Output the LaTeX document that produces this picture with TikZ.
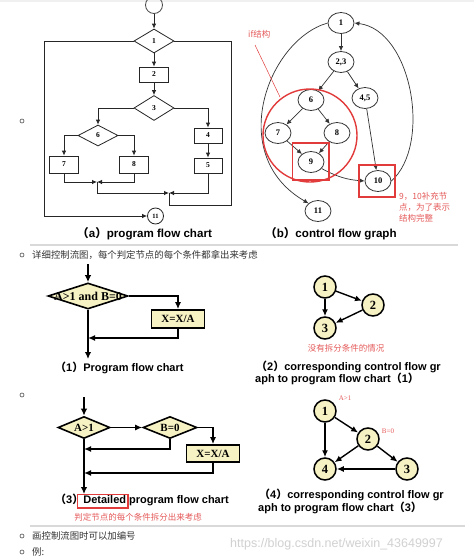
\documentclass[tikz,border=0pt]{standalone}
\usepackage{fontspec}
\setmainfont{Liberation Serif}
\newfontfamily\capfont{Liberation Sans}
\newfontfamily\cjk{Noto Sans CJK SC}
\usetikzlibrary{shapes.geometric,arrows.meta}
\definecolor{ylw}{HTML}{F7F2C4}
\definecolor{redbox}{HTML}{E23B3B}
\definecolor{redtxt}{HTML}{E65A5A}
\begin{document}
\begin{tikzpicture}[x=1pt,y=-1pt,
  thin/.style={draw=black!85, line width=0.8pt},
  tarrow/.style={thin, -{Latex[length=5pt,width=4.5pt]}},
  pbox/.style={draw=black!85, line width=0.8pt, rectangle, inner sep=0pt, minimum width=29pt, minimum height=15pt, font=\fontsize{7.5}{8}\selectfont\bfseries},
  pdia/.style={draw=black!85, line width=0.8pt, diamond, inner sep=0pt, minimum width=40pt, minimum height=24pt, font=\fontsize{7.5}{8}\selectfont\bfseries},
  cnode/.style={draw=black!80, line width=0.8pt, ellipse, inner sep=0pt, minimum width=26pt, minimum height=21pt, font=\fontsize{8.5}{9}\selectfont\bfseries},
  carrow/.style={draw=black!80, line width=0.7pt, -{Latex[length=5pt,width=4.5pt]}},
  ydia/.style={draw=black, line width=1.6pt, fill=ylw, diamond, inner sep=0pt},
  ybox/.style={draw=black, line width=1.6pt, fill=ylw, rectangle, inner sep=0pt, minimum width=53pt, minimum height=18pt, font=\fontsize{11}{12}\selectfont\bfseries},
  yn/.style={draw=black, line width=1.5pt, fill=ylw, circle, inner sep=0pt, minimum size=22pt, font=\fontsize{12.5}{13}\selectfont\bfseries},
  bigarrow/.style={draw=black, line width=1.6pt, -{Latex[length=7pt,width=6.5pt]}},
  yarrow/.style={draw=black, line width=1.4pt, -{Latex[length=7pt,width=6pt]}},
  capt/.style={anchor=west, inner sep=0pt, font=\capfont\bfseries\fontsize{11}{12}\selectfont},
  cjktext/.style={anchor=west, inner sep=0pt, text=black!80, font=\cjk\fontsize{9.4}{11}\selectfont},
  redcjk/.style={inner sep=0pt, text=redtxt, font=\cjk\fontsize{8.5}{11}\selectfont},
  bullet/.style={draw=black!70, line width=0.6pt, circle, inner sep=0pt, minimum size=4pt},
  sep/.style={draw=black!15, line width=2.5pt}
]
\useasboundingbox (0,0) rectangle (474,560);
\fill[white] (0,0) rectangle (474,560);
\fill[black!6] (0,0) rectangle (474,2);

% ---------- (a) program flow chart ----------
\node[draw=black!70, line width=0.8pt, circle, minimum size=17pt, inner sep=0pt] (st) at (154,5) {};
\node[pdia] (d1) at (154,41) {1};
\node[pbox] (b2) at (154,74.5) {2};
\node[pdia, minimum height=25pt] (d3) at (154,108) {3};
\node[pdia, minimum height=21pt] (d6) at (98,135.5) {6};
\node[pbox, minimum width=28pt] (b4) at (208,135.5) {4};
\node[pbox, minimum width=28pt] (b5) at (208,165.5) {5};
\node[pbox, minimum height=17pt] (b7) at (64,164.5) {7};
\node[pbox, minimum height=17pt] (b8) at (134,164.5) {8};
\node[draw=black!85, line width=0.8pt, circle, minimum size=16pt, inner sep=0pt, font=\fontsize{6.5}{7}\selectfont\bfseries] (c11) at (155.5,216) {11};
\coordinate (m1) at (97,182);
\coordinate (m2) at (169,193);
\coordinate (r1) at (231,205);
\coordinate (l1) at (44,216);

\draw[tarrow] (st) -- (d1);
\draw[tarrow] (d1) -- (b2);
\draw[tarrow] (b2) -- (d3);
\draw[tarrow] (d3.west) -| (d6.north);
\draw[tarrow] (d3.east) -| (b4.north);
\draw[tarrow] (b4) -- (b5);
\draw[tarrow] (d6.west) -| (b7.north);
\draw[tarrow] (d6.east) -| (b8.north);
\draw[tarrow] (b7.south) |- (m1);
\draw[tarrow] (b8.south) |- (m1);
\draw[tarrow] (m1) |- (m2);
\draw[tarrow] (b5.south) |- (m2);
\draw[thin] (m2) |- (r1) |- (d1.east);
\draw[tarrow] (d1.west) -| (l1) -- (c11.west);

\node[anchor=west, inner sep=0pt, font=\capfont\bfseries\fontsize{11.6}{13}\selectfont] (capa) at (77,234) {{\cjk （}a{\cjk ）}program flow chart};
\node[bullet] (bu1) at (22,121) {};

% ---------- (b) control flow graph ----------
\node[cnode] (n1) at (341,23) {1};
\node[cnode] (n23) at (341,62) {2,3};
\node[cnode] (n6) at (311,100) {6};
\node[cnode] (n45) at (365,98) {4,5};
\node[cnode] (n7) at (278,133) {7};
\node[cnode] (n8) at (337,133) {8};
\node[cnode] (n9) at (311,162) {9};
\node[cnode] (n10) at (378,181) {10};
\node[cnode] (n11) at (318,211) {11};

\draw[carrow] (n1) -- (n23);
\draw[carrow] (n23) -- (n6);
\draw[carrow] (n23) -- (n45);
\draw[carrow] (n6) -- (n7);
\draw[carrow] (n6) -- (n8);
\draw[carrow] (n7) -- (n9);
\draw[carrow] (n8) -- (n9);
\draw[carrow] (n45) -- (n10);
\draw[carrow] (n9) to[bend right=12] (n10.west);
\draw[carrow] (n10.east) .. controls (432,145) and (412,30) .. (n1.east);
\draw[carrow] (n1.west) .. controls (268,40) and (225,155) .. (n11.north west);

% red annotations
\draw[redbox, line width=1.4pt] (310,135.5) ellipse [x radius=47pt, y radius=46.5pt];
\draw[redbox, line width=1.4pt] (292.5,143) rectangle (329,180);
\draw[redbox, line width=1.4pt] (359,165) rectangle (395,197);
\node[redcjk, anchor=west] (iftxt) at (248,34) {if结构};
\draw[redbox, line width=0.5pt] (255,45) -- (280,97);
\node[redcjk, anchor=north west, align=left] (note) at (399,192) {9，10补充节\\点，为了表示\\结构完整};

\node[anchor=west, inner sep=0pt, font=\capfont\bfseries\fontsize{11.6}{13}\selectfont] (capb) at (265,234) {{\cjk （}b{\cjk ）}control flow graph};

\draw[sep] (30,245) -- (458,245);

% ---------- section 2 ----------
\node[bullet] (bu2) at (22,255) {};
\node[cjktext] (t2) at (32,255) {详细控制流图，每个判定节点的每个条件都拿出来考虑};

\coordinate (s1) at (88,264);
\node[ydia, minimum width=80pt, minimum height=26pt] (A1) at (88,296) {};
\node[inner sep=0pt, font=\fontsize{12}{13}\selectfont\bfseries] (A1t) at (88,296) {A>1 and B=0};
\node[ybox] (X1) at (178,319) {X=X/A};
\coordinate (j1) at (88,338);
\coordinate (e1) at (88,359);
\draw[bigarrow] (s1) -- (A1.north);
\draw[yarrow] (A1.east) -| (X1.north);
\draw[yarrow] (X1.south) |- (j1);
\draw[bigarrow] (A1.south) -- (e1);
\node[capt] (cap1) at (55,368) {{\cjk （}1{\cjk ）}Program flow chart};

\node[yn] (g1) at (325,287) {1};
\node[yn] (g2) at (373,305) {2};
\node[yn] (g3) at (325,328) {3};
\draw[yarrow] (g1) -- (g2);
\draw[yarrow] (g1) -- (g3);
\draw[yarrow] (g2) -- (g3);
\node[redcjk] (t2r) at (346,348) {没有拆分条件的情况};
\node[capt] (cap2a) at (256,366.5) {{\cjk （}2{\cjk ）}corresponding control flow gr};
\node[capt] (cap2b) at (255,378.5) {aph to program flow chart{\cjk （}1{\cjk ）}};

% ---------- section 3 ----------
\node[bullet] (bu3) at (22,395) {};
\coordinate (s3) at (84,397);
\node[ydia, minimum width=52pt, minimum height=22pt] (DA) at (84,427.5) {};
\node[inner sep=0pt, font=\fontsize{11}{12}\selectfont\bfseries] (DAt) at (84,427.5) {A>1};
\node[ydia, minimum width=54pt, minimum height=22pt] (DB) at (170,427.5) {};
\node[inner sep=0pt, font=\fontsize{11}{12}\selectfont\bfseries] (DBt) at (170,427.5) {B=0};
\node[ybox, minimum height=17pt] (X3) at (213,453.5) {X=X/A};
\coordinate (j2) at (84,449);
\coordinate (j3) at (84,473);
\coordinate (e3) at (84,494);
\draw[bigarrow] (s3) -- (DA.north);
\draw[yarrow] (DA.east) -- (DB.west);
\draw[yarrow] (DB.east) -| (X3.north);
\draw[yarrow] (DB.south) |- (j2);
\draw[yarrow] (X3.south) |- (j3);
\draw[bigarrow] (DA.south) -- (e3);
\node[capt] (cap3) at (55,500) {{\cjk （}3{\cjk ）}Detailed program flow chart};
\draw[redbox, line width=1.2pt] (77.5,494.5) rectangle (128,508);
\node[redcjk] (t3r) at (138,517) {判定节点的每个条件拆分出来考虑};

\node[yn] (h1) at (325,411) {1};
\node[yn] (h2) at (368,439) {2};
\node[yn] (h3) at (407,469) {3};
\node[yn] (h4) at (325,469) {4};
\draw[yarrow] (h1) -- (h2);
\draw[yarrow] (h1) -- (h4);
\draw[yarrow] (h2) -- (h4);
\draw[yarrow] (h2) -- (h3);
\draw[yarrow] (h3) -- (h4);
\node[inner sep=0pt, text=redtxt, font=\fontsize{7}{8}\selectfont] (la1) at (345,398) {A>1};
\node[inner sep=0pt, text=redtxt, font=\fontsize{7}{8}\selectfont] (la2) at (388,431) {B=0};
\node[capt] (cap4a) at (259,495) {{\cjk （}4{\cjk ）}corresponding control flow gr};
\node[capt] (cap4b) at (258,508) {aph to program flow chart{\cjk （}3{\cjk ）}};

\draw[sep] (30,526) -- (465,526);
\node[bullet] (bu4) at (22,536) {};
\node[cjktext] (t4) at (32,536) {画控制流图时可以加编号};
\node[bullet] (bu5) at (22,552) {};
\node[cjktext] (t5) at (32,552) {例:};
\node[anchor=west, inner sep=0pt, text=black!18, font=\capfont\fontsize{12.5}{13}\selectfont] (wm) at (230,544) {https://blog.csdn.net/weixin\_43649997};
\end{tikzpicture}
\end{document}
